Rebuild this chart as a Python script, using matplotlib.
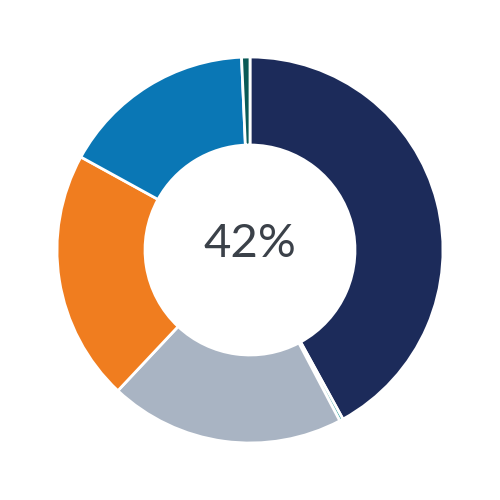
import numpy as np
import matplotlib.pyplot as plt

# доли сегментов по часовой стрелке от верха
shares = [42.0, 0.3, 19.7, 21.0, 16.3, 0.7]
colors = ['#1c2b5a', '#3aa5a0', '#a9b4c3', '#f07d1f', '#0a77b5', '#0b5a57']
center_label = '42%'

fig = plt.figure(figsize=(5, 5), dpi=100)
ax = fig.add_axes([0, 0, 1, 1])
ax.pie(shares, colors=colors, startangle=90, counterclock=False, radius=1,
       wedgeprops=dict(width=0.456, edgecolor='white', linewidth=2))
ax.text(0, 0.03, center_label, ha='center', va='center', fontsize=34,
        color='#3b4149', family=['Lato', 'DejaVu Sans'], fontweight='normal')
lim = 250 / 193
ax.set_xlim(-lim, lim)
ax.set_ylim(-lim, lim)
ax.set_aspect('equal')
ax.axis('off')
fig.savefig('out.png', dpi=100, facecolor='white')
